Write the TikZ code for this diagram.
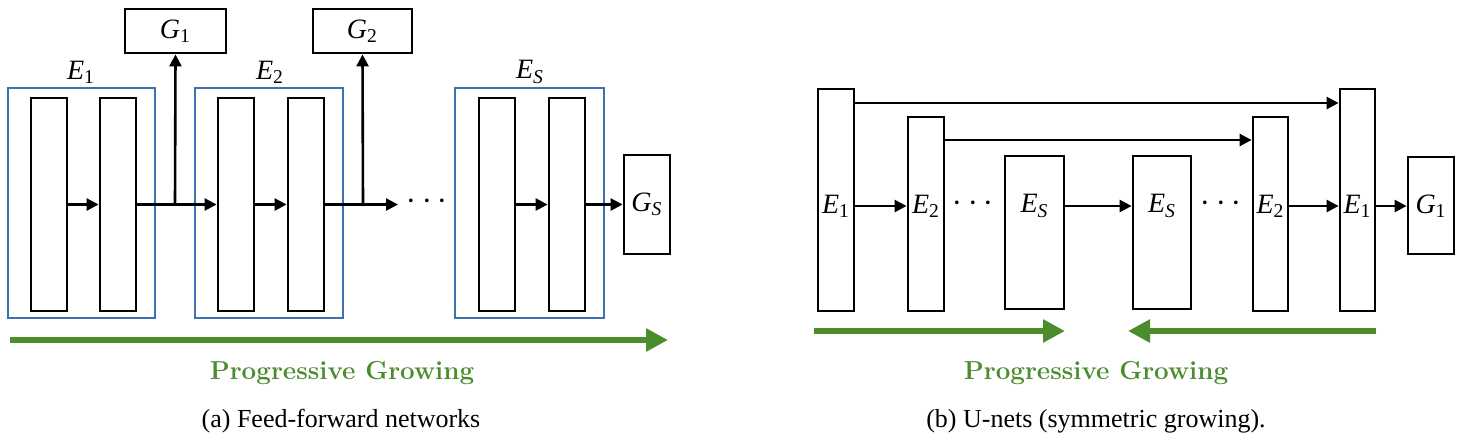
\documentclass[tikz,border=0pt]{standalone}
\usepackage{fontspec}
\setmainfont{Liberation Serif}
\newfontfamily\lmbold{Latin Modern Roman}
\usetikzlibrary{fit,arrows.meta}
\definecolor{bblue}{RGB}{60,115,175}
\definecolor{ggreen}{RGB}{75,140,45}
\newcommand{\lbl}[2]{\textit{#1}\textsubscript{#2}}
\begin{document}
\begin{tikzpicture}[x=0.5pt,y=-0.5pt,
  box/.style={draw,line width=1.4pt,inner sep=0pt},
  grp/.style={draw=bblue,line width=1pt,inner sep=0pt},
  arr/.style={line width=1.3pt,-{Triangle[length=6pt,width=6pt]}},
  garr/.style={draw=ggreen,line width=3pt,-{Triangle[length=11pt,width=11pt]}},
  lab/.style={font=\fontsize{14}{14}\selectfont,inner sep=0pt},
  dots/.style={font=\bfseries\fontsize{16}{16}\selectfont,inner sep=0pt},
  pg/.style={text=ggreen,font=\lmbold\bfseries\fontsize{13}{13}\selectfont},
  captxt/.style={font=\fontsize{13}{14}\selectfont}]
\useasboundingbox (0,0) rectangle (1471,435);
% ---- left panel
\node[grp,fit={(8,88)(155,318)}] (B1) {};
\node[grp,fit={(195,88)(343,318)}] (B2) {};
\node[grp,fit={(455,88)(604,318)}] (BS) {};
\node[box,fit={(31,98)(67,311)}] (a1) {};
\node[box,fit={(100,98)(136,311)}] (a2) {};
\node[box,fit={(218,98)(254,311)}] (b1) {};
\node[box,fit={(288,98)(324,311)}] (b2) {};
\node[box,fit={(479,98)(515,311)}] (s1) {};
\node[box,fit={(549,98)(585,311)}] (s2) {};
\node[box,fit={(624,155)(670,254)}] (GS) {};
\node[lab] at (GS) {\lbl{G}{\textit{S}}};
\node[box,fit={(125,9)(226,53)}] (G1b) {};
\node[lab] at (G1b) {\lbl{G}{1}};
\node[box,fit={(313,9)(412,53)}] (G2b) {};
\node[lab] at (G2b) {\lbl{G}{2}};
\node[lab] at (81,72) {\lbl{E}{1}};
\node[lab] at (270,72) {\lbl{E}{2}};
\node[lab] at (530,72) {\lbl{E}{\textit{S}}};
\coordinate (j1) at (175,204.5);
\coordinate (j2) at (363,204.5);
\coordinate (d1) at (398,204.5);
\draw[arr] (a1) -- (a2);
\draw[arr] (a2) -- (b1);
\draw[arr] (j1) -- (G1b.south);
\draw[arr] (b1) -- (b2);
\draw[arr] (b2) -- (d1);
\draw[arr] (j2) -- (G2b.south);
\draw[arr] (s1) -- (s2);
\draw[arr] (s2) -- (GS);
\node[dots] (dl) at (427,202) {$\cdots$};
\coordinate (gl0) at (10,340); \coordinate (gl1) at (668,340);
\draw[garr] (gl0) -- (gl1);
\node[pg] at (342,373) {Progressive Growing};
\node[captxt] at (341,421) {(a) Feed-forward networks};
% ---- right panel
\coordinate (m) at (0,206);
\node[box,fit={(818,89)(854,311)}] (r1) {};
\node[box,fit={(908,117)(944,311)}] (r2) {};
\node[box,fit={(1005,156)(1064,309)}] (r3) {};
\node[box,fit={(1133,156)(1191,309)}] (r4) {};
\node[box,fit={(1253,117)(1288,311)}] (r5) {};
\node[box,fit={(1340,89)(1375,311)}] (r6) {};
\node[box,fit={(1408,157)(1454,254)}] (rg) {};
\node[lab] at (r1|-m) {\lbl{E}{1}};
\node[lab] at (r2|-m) {\lbl{E}{2}};
\node[lab] at (r3|-m) {\lbl{E}{\textit{S}}};
\node[lab] at (r4|-m) {\lbl{E}{\textit{S}}};
\node[lab] at (r5|-m) {\lbl{E}{2}};
\node[lab] at (r6|-m) {\lbl{E}{1}};
\node[lab] at (rg|-m) {\lbl{G}{1}};
\node[dots] at (973,204) {$\cdots$};
\node[dots] at (1221,204) {$\cdots$};
\draw[arr] (r1.east|-m) -- (r2.west|-m);
\draw[arr] (r3.east|-m) -- (r4.west|-m);
\draw[arr] (r5.east|-m) -- (r6.west|-m);
\draw[arr] (r6.east|-m) -- (rg.west|-m);
\coordinate (k1) at (0,103); \coordinate (k2) at (0,140);
\draw[arr] (r1.east|-k1) -- (r6.west|-k1);
\draw[arr] (r2.east|-k2) -- (r5.west|-k2);
\coordinate (ga0) at (814,331); \coordinate (ga1) at (1065,331);
\coordinate (gb0) at (1376,331); \coordinate (gb1) at (1128,331);
\draw[garr] (ga0) -- (ga1);
\draw[garr] (gb0) -- (gb1);
\node[pg] at (1096,373) {Progressive Growing};
\node[captxt] at (1096,421) {(b) U-nets (symmetric growing).};
\end{tikzpicture}
\end{document}
